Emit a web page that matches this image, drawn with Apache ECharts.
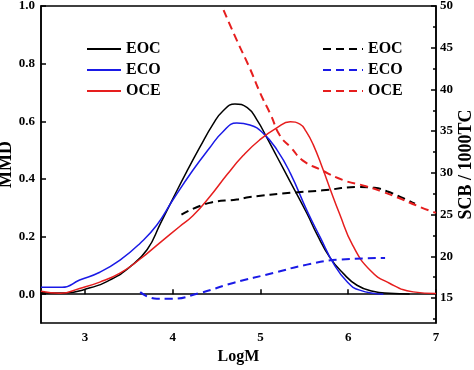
<!DOCTYPE html>
<html><head><meta charset="utf-8">
<script src="https://cdn.jsdelivr.net/npm/echarts@6/dist/echarts.min.js"></script>
<style>html,body{margin:0;padding:0;background:#fff}#c{width:474px;height:370px}</style>
</head><body><div id="c"></div>
<script>
// ---- data ----
const xTicks = [3, 4, 5, 6, 7];
const leftTicks = [0, 0.2, 0.4, 0.6, 0.8, 1.0];
const rightTicks = [15, 20, 25, 30, 35, 40, 45, 50];
const rightMinor = [12.5, 17.5, 22.5, 27.5, 32.5, 37.5, 42.5, 47.5];

// MMD curves (left axis)
const eocLogM = [2.5, 2.75, 3.06, 3.29, 3.51, 3.71, 3.86, 4.0, 4.16, 4.31, 4.46, 4.57, 4.71, 4.85, 4.96, 5.07, 5.19, 5.34, 5.53, 5.64, 5.79, 5.94, 6.1, 6.28, 6.47, 6.7];
const eocMMD  = [0.005, 0.004, 0.022, 0.05, 0.094, 0.155, 0.245, 0.33, 0.425, 0.51, 0.59, 0.635, 0.66, 0.647, 0.605, 0.545, 0.476, 0.39, 0.28, 0.21, 0.128, 0.073, 0.031, 0.01, 0.003, 0.001];
const ecoLogM = [2.5, 2.74, 2.94, 3.17, 3.4, 3.63, 3.82, 4.0, 4.23, 4.42, 4.57, 4.73, 4.88, 5.03, 5.19, 5.34, 5.53, 5.68, 5.83, 5.99, 6.13, 6.4];
const ecoMMD  = [0.024, 0.024, 0.049, 0.076, 0.118, 0.177, 0.24, 0.326, 0.43, 0.507, 0.563, 0.594, 0.587, 0.559, 0.5, 0.42, 0.29, 0.198, 0.108, 0.042, 0.014, 0.0];
const oceLogM = [2.5, 2.72, 2.94, 3.17, 3.4, 3.63, 3.86, 4.08, 4.23, 4.42, 4.62, 4.8, 4.99, 5.19, 5.34, 5.45, 5.52, 5.6, 5.71, 5.8, 5.9, 6.05, 6.25, 6.47, 6.74, 7.0];
const oceMMD  = [0.01, 0.003, 0.02, 0.042, 0.073, 0.122, 0.18, 0.235, 0.272, 0.337, 0.415, 0.48, 0.535, 0.578, 0.598, 0.59, 0.565, 0.52, 0.435, 0.36, 0.28, 0.17, 0.083, 0.038, 0.008, 0.002];

// SCB / 1000TC curves (right axis)
const eocScbLogM = [4.1, 4.42, 4.73, 4.88, 5.34, 5.71, 6.13, 6.3, 6.44, 6.62, 6.76];
const eocScb     = [25.0, 26.4, 26.8, 27.1, 27.6, 27.9, 28.3, 28.2, 27.8, 27.0, 26.3];
const ecoScbLogM = [3.63, 3.82, 3.97, 4.31, 4.69, 5.15, 5.53, 5.9, 6.42];
const ecoScb     = [15.7, 14.9, 14.9, 15.6, 16.8, 18.0, 19.0, 19.6, 19.8];
const oceScbLogM = [4.58, 4.73, 4.88, 5.0, 5.12, 5.22, 5.35, 5.48, 5.68, 5.95, 6.2, 6.4, 6.55, 6.82, 7.0];
const oceScb     = [49.5, 45.9, 42.5, 39.5, 36.9, 34.5, 33.0, 31.5, 30.4, 29.1, 28.4, 27.7, 27.1, 25.9, 25.2];

const names = ['EOC', 'ECO', 'OCE'];
// ---- chart ----
const zip = (a, b) => a.map((v, i) => [v, b[i]]);
const FONT = 'Liberation Serif';
const BLACK = '#000000', BLUE = '#1a1ae6', RED = '#e61e1e';
const colors = [BLACK, BLUE, RED];
const suffix = ' ';

function solid(i, x, y) {
  return { name: names[i], type: 'line', xAxisIndex: 0, yAxisIndex: 0, data: zip(x, y),
    smooth: 0.5, symbol: 'none', color: colors[i], lineStyle: { width: 1.5, color: colors[i] }, z: 3 };
}
function dashed(i, x, y) {
  return { name: names[i] + suffix, type: 'line', xAxisIndex: 0, yAxisIndex: 1, data: zip(x, y),
    smooth: 0.5, symbol: 'none', color: colors[i], lineStyle: { width: 2, type: [8, 5], color: colors[i] }, z: 3 };
}

const chart = echarts.init(document.getElementById('c'), null, { renderer: 'canvas' });
const legendText = { fontFamily: FONT, fontWeight: 'bold', fontSize: 16, color: '#000' };
const hiddenSym = { color: 'rgba(0,0,0,0)', borderColor: 'rgba(0,0,0,0)', borderWidth: 0 };
chart.setOption({
  animation: false,
  backgroundColor: '#fff',
  grid: { left: 41, right: 38, top: 6, bottom: 47, outerBoundsMode: 'none', containLabel: false,
    show: true, borderColor: '#000', borderWidth: 1.5 },
  legend: [
    { data: names, orient: 'vertical', left: 86, top: 41, padding: 0, itemWidth: 34, itemHeight: 14, itemGap: 5,
      textStyle: legendText, itemStyle: hiddenSym },
    { data: names.map(n => n + suffix), orient: 'vertical', left: 322, top: 41, padding: 0, itemWidth: 40, itemHeight: 14, itemGap: 5,
      textStyle: legendText, itemStyle: hiddenSym }
  ],
  xAxis: [{
    type: 'value', min: 2.5, max: 7,
    name: 'LogM', nameLocation: 'middle', nameGap: 26,
    nameTextStyle: { fontFamily: FONT, fontWeight: 'bold', fontSize: 16, color: '#000' },
    axisLine: { lineStyle: { color: '#000', width: 1.5 } },
    axisTick: { inside: true, length: 5, customValues: xTicks, lineStyle: { color: '#000', width: 1.5 } },
    axisLabel: { customValues: xTicks, margin: 8, fontFamily: FONT, fontWeight: 'bold', fontSize: 13, color: '#000',
      formatter: v => String(v) },
    splitLine: { show: false }
  }],
  yAxis: [{
    type: 'value', min: -0.1, max: 1.0, position: 'left',
    name: 'MMD', nameLocation: 'middle', nameGap: 26, nameRotate: 90, nameMoveOverlap: false,
    nameTextStyle: { fontFamily: FONT, fontWeight: 'bold', fontSize: 18, color: '#000' },
    axisLine: { show: true, lineStyle: { color: '#000', width: 1.5 } },
    axisTick: { show: true, inside: true, length: 5, customValues: leftTicks, lineStyle: { color: '#000', width: 1.5 } },
    axisLabel: { customValues: leftTicks, margin: 6, fontFamily: FONT, fontWeight: 'bold', fontSize: 13, color: '#000',
      formatter: v => v.toFixed(1) },
    splitLine: { show: false }
  }, {
    type: 'value', min: 12, max: 50, position: 'right',
    name: 'SCB / 1000TC', nameLocation: 'middle', nameGap: 21, nameRotate: 90, nameMoveOverlap: false,
    nameTextStyle: { fontFamily: FONT, fontWeight: 'bold', fontSize: 18, color: '#000' },
    axisLine: { show: true, lineStyle: { color: '#000', width: 1.5 } },
    axisTick: { show: true, inside: true, length: 5, customValues: rightTicks, lineStyle: { color: '#000', width: 1.5 } },
    axisLabel: { customValues: rightTicks, margin: 4, fontFamily: FONT, fontWeight: 'bold', fontSize: 13, color: '#000',
      formatter: v => String(v) },
    splitLine: { show: false }
  }, {
    type: 'value', min: 12, max: 50, position: 'right',
    axisLine: { show: false },
    axisTick: { show: true, inside: true, length: 3, customValues: rightMinor, lineStyle: { color: '#000', width: 1.5 } },
    axisLabel: { show: false },
    splitLine: { show: false }
  }],
  series: [
    solid(0, eocLogM, eocMMD), solid(1, ecoLogM, ecoMMD), solid(2, oceLogM, oceMMD),
    dashed(0, eocScbLogM, eocScb), dashed(1, ecoScbLogM, ecoScb), dashed(2, oceScbLogM, oceScb)
  ]
});
</script></body></html>
